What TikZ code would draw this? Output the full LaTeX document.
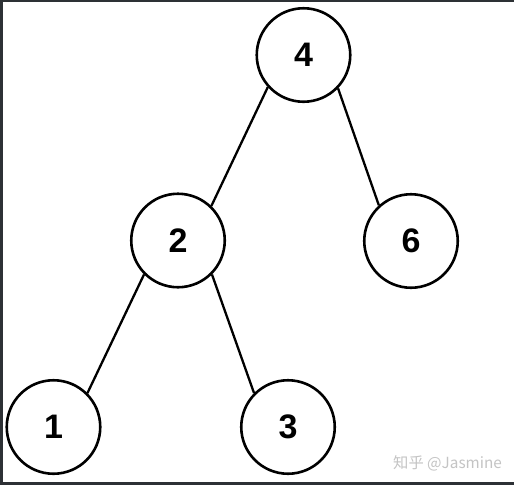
\documentclass[tikz,border=0pt]{standalone}
\usepackage{fontspec}
\setmainfont{Liberation Sans}
\newfontfamily\cjk{Noto Sans CJK SC}
\definecolor{frame}{HTML}{2D3135}
\definecolor{wm}{HTML}{C4C4C4}
\begin{document}
\begin{tikzpicture}[x=1pt,y=-1pt,
  tnode/.style={circle,draw=black,line width=2.6pt,minimum size=93.5pt,inner sep=0pt,
    font=\fontsize{34}{34}\selectfont\bfseries},
  edge/.style={line width=2.3pt,black}]
\useasboundingbox (0,0) rectangle (514,485);
\fill[white] (0,0) rectangle (514,485);
\fill[frame] (0,0) rectangle (514,2);
\fill[frame] (0,0) rectangle (3,485);
\fill[frame] (0,482) rectangle (514,485);
\node[tnode] (n4) at (303.5,55) {4};
\node[tnode] (n2) at (178,240.5) {2};
\node[tnode] (n6) at (411,241) {6};
\node[tnode] (n1) at (53.5,427) {1};
\node[tnode] (n3) at (288,427) {3};
\draw[edge] (n4.222) -- (n2.46);
\draw[edge] (n4.316) -- (n6.132);
\draw[edge] (n2.225) -- (n1.45);
\draw[edge] (n2.315) -- (n3.135);
\node[anchor=west,inner sep=0pt,text=wm,font=\cjk\fontsize{15.3}{15.3}\selectfont] (wmk) at (393,463) {知乎 @Jasmine};
\end{tikzpicture}
\end{document}
